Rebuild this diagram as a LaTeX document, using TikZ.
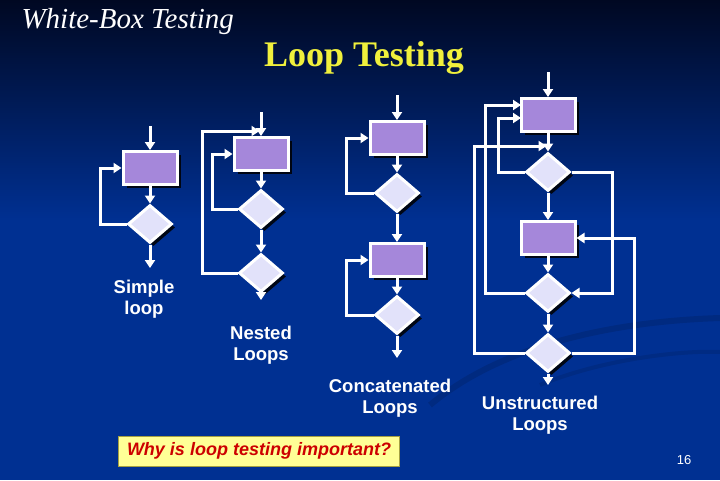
\documentclass[tikz,border=0pt]{standalone}
\usepackage{fontspec}
\setmainfont{Liberation Serif}
\setsansfont{Liberation Sans}
\usetikzlibrary{arrows.meta,shapes.geometric,shadows}

\definecolor{bgtop}{RGB}{0,8,34}
\definecolor{bgblue}{RGB}{0,48,146}
\definecolor{boxfill}{RGB}{165,135,218}
\definecolor{diafill}{RGB}{226,226,250}
\definecolor{titleyellow}{RGB}{240,240,60}
\definecolor{notefill}{RGB}{255,255,150}
\definecolor{notered}{RGB}{204,0,0}

\begin{document}
\begin{tikzpicture}[
    x=1pt, y=-1pt,
    blk/.style={
        rectangle,
        draw=white,
        fill=boxfill,
        line width=3pt,
        minimum width=54pt,
        minimum height=33pt,
        inner sep=0pt,
        drop shadow={shadow xshift=3.5pt, shadow yshift=-3.5pt, fill=black, opacity=0.85}
    },
    dia/.style={
        diamond,
        draw=white,
        fill=diafill,
        line width=3pt,
        minimum width=44pt,
        minimum height=38pt,
        inner sep=0pt,
        drop shadow={shadow xshift=3.5pt, shadow yshift=-3.5pt, fill=black, opacity=0.85}
    },
    flow/.style={draw=white, line width=3pt, -{Triangle[width=10pt,length=8pt]}},
    lbl/.style={text=white, align=center, font=\sffamily\bfseries\fontsize{18.5}{20.5}\selectfont}
]

% background
\useasboundingbox (0,0) rectangle (720,480);
\fill[top color=bgtop, bottom color=bgblue] (0,0) rectangle (720,220);
\fill[bgblue] (0,220) rectangle (720,480);
\draw[black, opacity=0.12, line width=6pt] (430,405) .. controls (520,330) and (660,320) .. (720,318);
\draw[black, opacity=0.10, line width=4pt] (540,385) .. controls (600,360) and (680,350) .. (720,352);

% titles
\node[anchor=base west, text=white, font=\itshape\fontsize{29}{31}\selectfont] (hdr) at (18,28) {White-Box Testing};
\node[anchor=base, text=titleyellow, font=\bfseries\fontsize{36}{40}\selectfont] (title) at (364,66) {Loop Testing};

% simple loop
\coordinate (stop) at (150,126);
\node[blk] (sbox) at (150,168) {};
\node[dia] (sd) at (150,224) {};
\coordinate (send) at (150,268);
\draw[flow] (stop) -- (sbox.north);
\draw[flow] (sbox.south) -- (sd.north);
\draw[flow] (sd.south) -- (send);
\draw[flow] (sd.west) -- ++(-26,0) |- (sbox.west);
\node[lbl] (slbl) at (144,299) {Simple\\loop};

% nested loops
\coordinate (ntop) at (261,112);
\coordinate (njoin) at (259.5,131);
\node[blk] (nbox) at (261,154) {};
\node[dia] (nd1) at (261,209) {};
\node[dia] (nd2) at (261,273) {};
\coordinate (nend) at (261,300);
\draw[flow] (ntop) -- (nbox.north);
\draw[flow] (nbox.south) -- (nd1.north);
\draw[flow] (nd1.south) -- (nd2.north);
\draw[flow] (nd2.south) -- (nend);
\draw[flow] (nd1.west) -- ++(-25,0) |- (nbox.west);
\draw[flow] (nd2.west) -- ++(-35,0) |- (njoin);
\node[lbl] (nlbl) at (261,345) {Nested\\Loops};

% concatenated loops
\coordinate (ctop) at (397,95);
\node[blk] (cbox1) at (397,138) {};
\node[dia] (cd1) at (397,193) {};
\node[blk] (cbox2) at (397,260) {};
\node[dia] (cd2) at (397,315) {};
\coordinate (cend) at (397,358);
\draw[flow] (ctop) -- (cbox1.north);
\draw[flow] (cbox1.south) -- (cd1.north);
\draw[flow] (cd1.south) -- (cbox2.north);
\draw[flow] (cbox2.south) -- (cd2.north);
\draw[flow] (cd2.south) -- (cend);
\draw[flow] (cd1.west) -- ++(-27,0) |- (cbox1.west);
\draw[flow] (cd2.west) -- ++(-27,0) |- (cbox2.west);
\node[lbl] (clbl) at (390,398) {Concatenated\\Loops};

% unstructured loops
\coordinate (utop) at (548,72);
\node[blk] (ubox1) at (548,115) {};
\coordinate (uin1) at (521,105);
\coordinate (uin2) at (521,118);
\coordinate (ujoin) at (546.5,146);
\node[dia] (ud1) at (548,172) {};
\node[blk] (ubox2) at (548,238) {};
\node[dia] (ud2) at (548,293) {};
\node[dia] (ud3) at (548,353) {};
\coordinate (uend) at (548,385);
\draw[flow] (utop) -- (ubox1.north);
\draw[flow] (ubox1.south) -- (ud1.north);
\draw[flow] (ud1.south) -- (ubox2.north);
\draw[flow] (ubox2.south) -- (ud2.north);
\draw[flow] (ud2.south) -- (ud3.north);
\draw[flow] (ud3.south) -- (uend);
\draw[flow] (ud2.west) -- ++(-39,0) |- (uin1);
\draw[flow] (ud1.west) -- ++(-26,0) |- (uin2);
\draw[flow] (ud3.west) -- ++(-50,0) |- (ujoin);
\draw[flow] (ud1.east) -- ++(41,0) |- (ud2.east);
\draw[flow] (ud3.east) -- ++(63,0) |- (ubox2.east);
\node[lbl] (ulbl) at (540,415) {Unstructured\\Loops};

% question box
\node[rectangle, draw=yellow!60!black, fill=notefill, minimum width=281pt, minimum height=30pt,
      text=notered, font=\sffamily\bfseries\itshape\fontsize{18}{20}\selectfont] (quest) at (259,451)
      {Why is loop testing important?};

% slide number
\node[text=white, font=\sffamily\fontsize{13}{15}\selectfont] (pnum) at (684,460) {16};

\end{tikzpicture}
\end{document}
